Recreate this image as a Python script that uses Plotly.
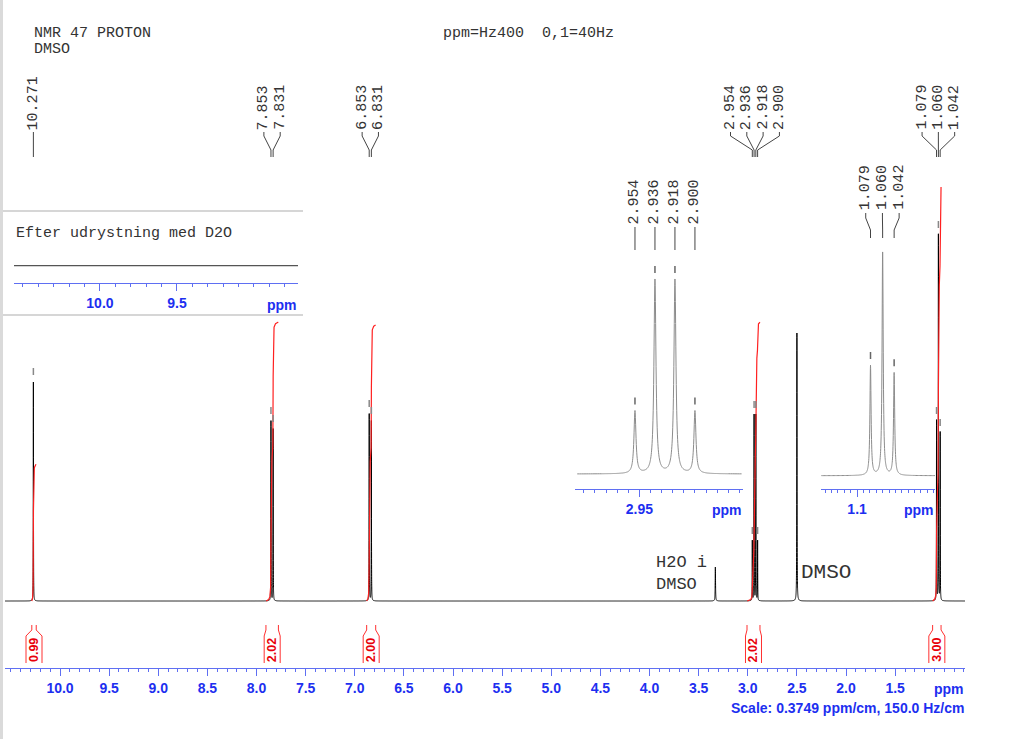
import numpy as np
import plotly.graph_objects as go

W, H = 1024, 739

# ---------------- data ----------------
peak_shift  = [10.271, 7.853, 7.831, 6.853, 6.831, 3.330, 2.954, 2.936, 2.918, 2.900, 2.500, 1.079, 1.060, 1.042]
peak_height = [219, 180, 172, 187, 180, 34, 60, 186, 186, 60, 268, 180, 366, 168]
peak_fwhm   = [0.0022, 0.0022, 0.0022, 0.0022, 0.0022, 0.004, 0.0022, 0.0022, 0.0022, 0.0022, 0.003, 0.0022, 0.0022, 0.0022]

label_groups = [[10.271], [7.853, 7.831], [6.853, 6.831], [2.954, 2.936, 2.918, 2.900], [1.079, 1.060, 1.042]]

integral_from  = [10.287, 7.904, 6.879, 3.008, 1.119]
integral_to    = [10.242, 7.777, 6.787, 2.876, 1.033]
integral_value = [0.99, 2.02, 2.00, 2.02, 3.00]

quartet_shift = [2.954, 2.936, 2.918, 2.900]
quartet_height = [60, 186, 186, 60]
triplet_shift = [1.079, 1.060, 1.042]
triplet_height = [180, 366, 168]

d2o_shift = [10.56, 8.71]
d2o_intensity = [0, 0]

main_major = [10.5, 10.0, 9.5, 9.0, 8.5, 8.0, 7.5, 7.0, 6.5, 6.0, 5.5, 5.0, 4.5, 4.0, 3.5, 3.0, 2.5, 2.0, 1.5, 1.0]
main_labels = ["", "10.0", "9.5", "9.0", "8.5", "8.0", "7.5", "7.0", "6.5", "6.0", "5.5", "5.0",
               "4.5", "4.0", "3.5", "3.0", "2.5", "2.0", "1.5", ""]
q_major, q_labels = [3.00, 2.95, 2.90], ["", "2.95", ""]
t_major, t_labels = [1.1, 1.0], ["1.1", ""]
d_major, d_labels = [10.5, 10.0, 9.5, 9.0], ["", "10.0", "9.5", ""]

# ---------------- styles / layout constants ----------------
MONO = "Liberation Mono, Courier New, monospace"
SANS = "Liberation Sans, Arial, sans-serif"
AX_LINE = "#5f6ff2"
AX_TEXT = "#1d2ff0"
RED = "#ff2020"
TXT = "#333333"
UNITS_PER_H = 138.0

def px(x):
    return x / W

def py(y):
    return 1 - y / H

# main axis
MX = (5, 965)
MR = (10.5598, 0.7893)
M_SCALE = (MX[1] - MX[0]) / (MR[0] - MR[1])
# quartet inset
QX = (575, 742.7)
QR = (3.008, 2.857)
# triplet inset
TX = (820.7, 935)
TR = (1.157, 0.978)
T_SCALE = (TX[1] - TX[0]) / (TR[0] - TR[1])
# D2O inset
DX = (14, 298)
DR = (10.558, 8.714)

# ---------------- spectrum ----------------
coarse = np.arange(0.78, 10.57, 0.002)
fine = [np.arange(p - 0.03, p + 0.03, 0.0002) for p in peak_shift]
grid = np.unique(np.concatenate([coarse] + fine))[::-1]
spec = np.zeros_like(grid)
for p, h, w in zip(peak_shift, peak_height, peak_fwhm):
    spec += h / (1 + ((grid - p) / (w / 2)) ** 2)

fig = go.Figure()
fig.add_trace(go.Scatter(x=grid, y=spec, mode="lines", line=dict(color="#000000", width=1, simplify=False),
                         xaxis="x", yaxis="y", hoverinfo="skip"))

for a, b, v in zip(integral_from, integral_to, integral_value):
    m = (grid <= a) & (grid >= b)
    xs, ys = grid[m], spec[m]
    cum = np.concatenate([[0.0], np.cumsum(0.5 * (ys[1:] + ys[:-1]) * np.abs(np.diff(xs)))])
    cum = cum / cum[-1] * v * UNITS_PER_H
    fig.add_trace(go.Scatter(x=xs, y=cum, mode="lines", line=dict(color=RED, width=1.2),
                             xaxis="x", yaxis="y", hoverinfo="skip"))

mq = (grid <= QR[0]) & (grid >= QR[1])
fig.add_trace(go.Scatter(x=grid[mq], y=spec[mq], mode="lines", line=dict(color="#8c8c8c", width=1, simplify=False),
                         xaxis="x2", yaxis="y2", hoverinfo="skip"))
mt = (grid <= TR[0]) & (grid >= TR[1])
fig.add_trace(go.Scatter(x=grid[mt], y=spec[mt], mode="lines", line=dict(color="#8c8c8c", width=1, simplify=False),
                         xaxis="x3", yaxis="y3", hoverinfo="skip"))
fig.add_trace(go.Scatter(x=d2o_shift, y=d2o_intensity, mode="lines", line=dict(color="#555555", width=1.2),
                         xaxis="x4", yaxis="y4", hoverinfo="skip"))


def xaxis(dom, rng, majors, labels, minor_step, anchor, minor_len=3, major_len=7):
    lo, hi = min(rng), max(rng)
    k0 = int(np.ceil(lo / minor_step - 1e-6))
    k1 = int(np.floor(hi / minor_step + 1e-6))
    minors = [round(k * minor_step, 4) for k in range(k0, k1 + 1)]
    return dict(domain=[px(dom[0]), px(dom[1])], range=list(rng), anchor=anchor,
                showline=True, linecolor=AX_LINE, linewidth=1, mirror=False,
                ticks="outside", ticklen=major_len, tickwidth=1, tickcolor=AX_LINE,
                tickmode="array", tickvals=majors, ticktext=labels,
                tickfont=dict(family=SANS, size=14, color=AX_TEXT, weight="bold"),
                minor=dict(tickmode="array", tickvals=minors, ticks="outside", ticklen=minor_len,
                           tickcolor=AX_LINE, tickwidth=1, showgrid=False),
                showgrid=False, zeroline=False, fixedrange=True)


def yaxis(dom_px, rng, anchor):
    return dict(domain=[py(dom_px[0]), py(dom_px[1])], range=list(rng), anchor=anchor,
                visible=False, fixedrange=True)

G2 = 194 / 186.0
G3 = 223 / 366.0

layout = dict(
    width=W, height=H, margin=dict(l=0, r=0, t=0, b=0),
    paper_bgcolor="white", plot_bgcolor="rgba(0,0,0,0)", showlegend=False, hovermode=False,
    xaxis=xaxis(MX, MR, main_major, main_labels, 0.1, "y"),
    yaxis=yaxis((668, 0), (-(668 - 601), 601), "x"),
    xaxis2=xaxis(QX, QR, q_major, q_labels, 0.01, "y2"),
    yaxis2=yaxis((489, 240), (-(489 - 474) / G2, (474 - 240) / G2), "x2"),
    xaxis3=xaxis(TX, TR, t_major, t_labels, 0.01, "y3"),
    yaxis3=yaxis((489, 240), (-(489 - 475.7) / G3, (475.7 - 240) / G3), "x3"),
    xaxis4=xaxis(DX, DR, d_major, d_labels, 0.1, "y4"),
    yaxis4=yaxis((283, 250), (-(283 - 265.7), 265.7 - 250), "x4"),
)
fig.update_layout(**layout)

shapes = []
ann = []


def text(x, y, s, size, color=TXT, family=MONO, xanchor="left", yanchor="middle", angle=0,
         xref="paper", xshift=0, weight="normal", align="left"):
    ann.append(dict(x=x, y=y, xref=xref, yref="paper", text=s, showarrow=False, xanchor=xanchor,
                    yanchor=yanchor, textangle=angle, xshift=xshift, borderpad=0, align=align,
                    font=dict(family=family, size=size, color=color, weight=weight)))

# page border strip
shapes.append(dict(type="rect", xref="paper", yref="paper", x0=0, x1=px(3), y0=0, y1=1,
                   fillcolor="#dadada", line=dict(width=0), layer="below"))

# header texts
text(px(33), py(33), "NMR 47 PROTON", 15)
text(px(33), py(49), "DMSO", 15)
text(px(442), py(34), "ppm=Hz400  0,1=40Hz", 15)

# D2O inset frame and text
shapes.append(dict(type="line", xref="paper", yref="paper", x0=px(3), x1=px(303), y0=py(211), y1=py(211),
                   line=dict(color="#c8c8c8", width=1.5)))
shapes.append(dict(type="line", xref="paper", yref="paper", x0=px(3), x1=px(303), y0=py(315), y1=py(315),
                   line=dict(color="#c8c8c8", width=1.5)))
text(px(15), py(234), "Efter udrystning med D2O", 15)

# "ppm" axis titles and scale text
for xe, ye in [(965, 689), (742.5, 510), (935, 510), (298, 305)]:
    text(px(xe), py(ye), "ppm", 14, color=AX_TEXT, family=SANS, xanchor="right", weight="bold")
text(px(965), py(708), "Scale: 0.3749 ppm/cm, 150.0 Hz/cm", 14, color=AX_TEXT, family=SANS,
     xanchor="right", weight="bold")

# solvent labels
text(px(655), py(573), "H2O i<br>DMSO", 17)
text(px(800), py(572), "DMSO", 21)

# peak labels with fork lines (main spectrum)
GAP = 16.3
for g in label_groups:
    m = float(np.mean(g))
    n = len(g)
    for i, p in enumerate(g):
        lx = (i - (n - 1) / 2) * GAP
        bx = (m - p) * M_SCALE
        text(m, py(131), f"{p:.3f}", 15, xanchor="center", yanchor="bottom", angle=-90, xref="x", xshift=lx)
        path = (f"M {lx:.2f},{py(132):.5f} L {lx:.2f},{py(136):.5f} "
                f"L {bx:.2f},{py(150):.5f} L {bx:.2f},{py(157):.5f}")
        shapes.append(dict(type="path", xref="x", yref="paper", xsizemode="pixel", xanchor=m, path=path,
                           line=dict(color="#444444", width=1)))
        h = peak_height[peak_shift.index(p)]
        shapes.append(dict(type="line", xref="x", yref="y", ysizemode="pixel", yanchor=h,
                           x0=p, x1=p, y0=7, y1=14, line=dict(color="#888888", width=1.5)))

# quartet inset labels
for p, h in zip(quartet_shift, quartet_height):
    text(p, py(225), f"{p:.3f}", 15, xanchor="center", yanchor="bottom", angle=-90, xref="x2")
    shapes.append(dict(type="line", xref="x2", yref="paper", x0=p, x1=p, y0=py(227), y1=py(250),
                       line=dict(color="#444444", width=1)))
    shapes.append(dict(type="line", xref="x2", yref="y2", ysizemode="pixel", yanchor=h,
                       x0=p, x1=p, y0=7, y1=14, line=dict(color="#666666", width=1.5)))

# triplet inset labels
mt_c = float(np.mean(triplet_shift))
for i, (p, h) in enumerate(zip(triplet_shift, triplet_height)):
    lx = (i - 1) * 16.7
    bx = (mt_c - p) * T_SCALE
    text(mt_c, py(211), f"{p:.3f}", 15, xanchor="center", yanchor="bottom", angle=-90, xref="x3", xshift=lx)
    path = (f"M {lx:.2f},{py(213):.5f} L {lx:.2f},{py(218):.5f} "
            f"L {bx:.2f},{py(230):.5f} L {bx:.2f},{py(238):.5f}")
    shapes.append(dict(type="path", xref="x3", yref="paper", xsizemode="pixel", xanchor=mt_c, path=path,
                       line=dict(color="#444444", width=1)))
    if i != 1:
        shapes.append(dict(type="line", xref="x3", yref="y3", ysizemode="pixel", yanchor=h,
                           x0=p, x1=p, y0=7, y1=14, line=dict(color="#666666", width=1.5)))

# integral brackets and values
for a, b, v in zip(integral_from, integral_to, integral_value):
    c = (a + b) / 2
    hw = (a - b) / 2 * M_SCALE
    for s in (-1, 1):
        path = (f"M {s*hw:.2f},{py(625):.5f} L {s*hw:.2f},{py(630):.5f} "
                f"L {s*8:.2f},{py(636):.5f} L {s*8:.2f},{py(663):.5f}")
        shapes.append(dict(type="path", xref="x", yref="paper", xsizemode="pixel", xanchor=c, path=path,
                           line=dict(color="#ff3030", width=1)))
    text(c, py(650), f"{v:.2f}", 12.5, color="#e8000a", family=SANS, xanchor="center", angle=-90,
         xref="x", weight="bold")

fig.update_layout(shapes=shapes, annotations=ann)
fig.write_html("out.html", config={"displayModeBar": False})
